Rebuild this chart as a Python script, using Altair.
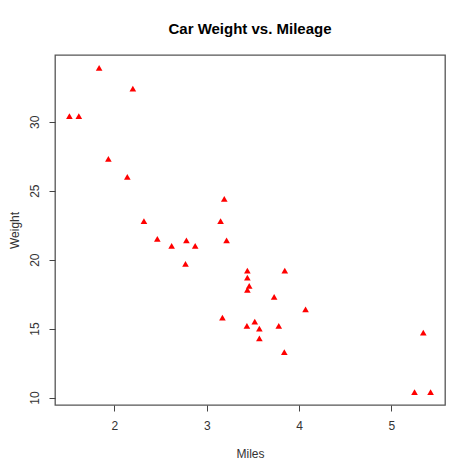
import altair as alt
import pandas as pd

miles = [2.620, 2.875, 2.320, 3.215, 3.440, 3.460, 3.570, 3.190, 3.150, 3.440, 3.440,
         4.070, 3.730, 3.780, 5.250, 5.424, 5.345, 2.200, 1.615, 1.835, 2.465, 3.520,
         3.435, 3.840, 3.845, 1.935, 2.140, 1.513, 3.170, 2.770, 3.570, 2.780]
weight = [21.0, 21.0, 22.8, 21.4, 18.7, 18.1, 14.3, 24.4, 22.8, 19.2, 17.8,
          16.4, 17.3, 15.2, 10.4, 10.4, 14.7, 32.4, 30.4, 33.9, 21.5, 15.5,
          15.2, 13.3, 19.2, 27.3, 26.0, 30.4, 15.8, 19.7, 15.0, 21.4]
x_ticks = [2, 3, 4, 5]
y_ticks = [10, 15, 20, 25, 30]

df = pd.DataFrame({"Miles": miles, "Weight": weight})

FONT = "Liberation Sans"

chart = alt.Chart(df).mark_point(
    shape="triangle-up", filled=True, color="#FF0000", opacity=1, size=44
).encode(
    x=alt.X("Miles:Q",
            scale=alt.Scale(domain=[1.357, 5.580], nice=False, zero=False),
            axis=alt.Axis(values=x_ticks, grid=False, domain=False, tickSize=6,
                          tickColor="#444", labelFontSize=12, labelFont=FONT,
                          labelColor="#333", labelPadding=9, labelAngle=0,
                          title="Miles", titleFont=FONT, titleFontSize=12,
                          titleFontWeight="normal", titleColor="#333",
                          titleY=48, titleBaseline="middle")),
    y=alt.Y("Weight:Q",
            scale=alt.Scale(domain=[9.46, 34.84], nice=False, zero=False),
            axis=alt.Axis(values=y_ticks, grid=False, domain=False, tickSize=6,
                          tickColor="#444", labelFontSize=12, labelFont=FONT,
                          labelColor="#333", labelPadding=8, labelAngle=-90,
                          labelAlign="center", labelBaseline="bottom",
                          title="Weight", titleFont=FONT, titleFontSize=12,
                          titleFontWeight="normal", titleColor="#333",
                          titleX=-41, titleY=175, titleAngle=-90,
                          titleAlign="center", titleBaseline="middle")),
).properties(
    width=390,
    height=350,
    title=alt.TitleParams("Car Weight vs. Mileage", font=FONT, fontSize=15,
                          fontWeight="bold", color="#000", anchor="middle",
                          baseline="alphabetic", frame="group", offset=6),
    autosize=alt.AutoSizeParams(type="none"),
    padding={"left": 47, "top": 47, "right": 21, "bottom": 61},
).configure(
    background="white"
).configure_view(
    stroke="#555", strokeWidth=1.3
)

chart.save("out.html", embed_options={"renderer": "svg", "actions": False})
